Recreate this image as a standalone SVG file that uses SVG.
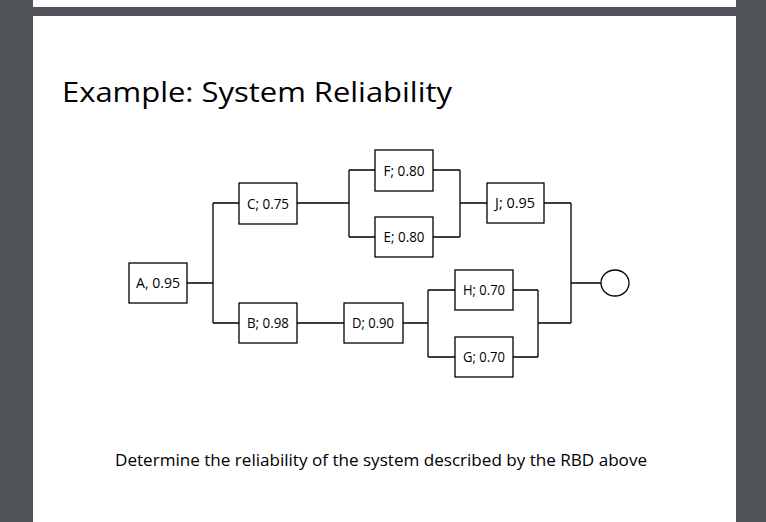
<svg xmlns="http://www.w3.org/2000/svg" width="766" height="522" viewBox="0 0 766 522">
<style>
.b{fill:#fff;stroke:#000;stroke-width:1.3}
.t{font-family:"Open Sans",sans-serif;font-size:14px;text-anchor:middle}
.c{fill:none;stroke:#000;stroke-width:1.3}
</style>
<rect width="766" height="522" fill="#4f5357"/>
<rect x="33" y="0" width="703" height="7" fill="#fff"/>
<rect x="33" y="16" width="703" height="506" fill="#fff"/>
<text x="62" y="102" font-family="Open Sans, sans-serif" font-size="28" textLength="390" lengthAdjust="spacingAndGlyphs">Example: System Reliability</text>
<g id="connectors" class="c">
<path d="M187 283H213M213 203V323M213 203H239M213 323H239"/>
<path d="M297 203H349M349 170V237M349 170H375M349 237H375M433 170H460M433 237H460M460 170V237M460 203H487"/>
<path d="M544 203H571M571 203V323M571 283H601"/>
<path d="M297 323H344M403 323H428M428 290V357M428 290H455M428 357H455M513 290H538M513 357H538M538 290V357M538 323H571"/>
</g>
<g id="A"><rect class="b" x="129" y="263" width="58" height="40"/><text class="t" x="158" y="288" textLength="44" lengthAdjust="spacingAndGlyphs">A, 0.95</text></g>
<g id="C"><rect class="b" x="239" y="183" width="58" height="41"/><text class="t" x="268" y="209" textLength="42" lengthAdjust="spacingAndGlyphs">C; 0.75</text></g>
<g id="F"><rect class="b" x="375" y="150" width="58" height="41"/><text class="t" x="404" y="176" textLength="41" lengthAdjust="spacingAndGlyphs">F; 0.80</text></g>
<g id="E"><rect class="b" x="375" y="217" width="58" height="40"/><text class="t" x="404" y="242" textLength="41" lengthAdjust="spacingAndGlyphs">E; 0.80</text></g>
<g id="J"><rect class="b" x="487" y="183" width="57" height="40"/><text class="t" x="515" y="208" textLength="40" lengthAdjust="spacingAndGlyphs">J; 0.95</text></g>
<g id="B"><rect class="b" x="239" y="303" width="58" height="40"/><text class="t" x="268" y="328" textLength="42" lengthAdjust="spacingAndGlyphs">B; 0.98</text></g>
<g id="D"><rect class="b" x="344" y="303" width="59" height="40"/><text class="t" x="373" y="328" textLength="42" lengthAdjust="spacingAndGlyphs">D; 0.90</text></g>
<g id="H"><rect class="b" x="455" y="270" width="58" height="40"/><text class="t" x="484" y="295" textLength="42" lengthAdjust="spacingAndGlyphs">H; 0.70</text></g>
<g id="G"><rect class="b" x="455" y="337" width="58" height="40"/><text class="t" x="484" y="362" textLength="42" lengthAdjust="spacingAndGlyphs">G; 0.70</text></g>
<g id="end"><ellipse class="b" cx="615" cy="283" rx="14" ry="13"/></g>
<text x="115" y="466" font-family="Open Sans, sans-serif" font-size="16" textLength="532" lengthAdjust="spacingAndGlyphs">Determine the reliability of the system described by the RBD above</text>
</svg>
